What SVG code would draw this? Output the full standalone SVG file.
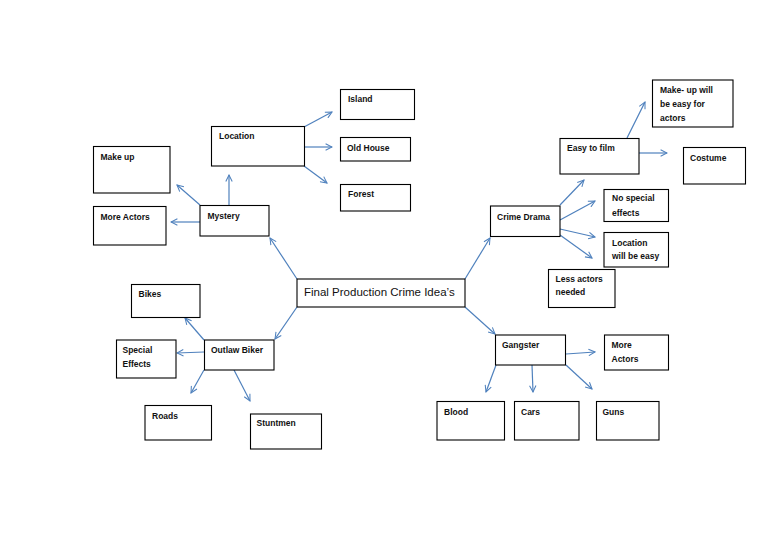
<svg xmlns="http://www.w3.org/2000/svg" width="768" height="543" viewBox="0 0 768 543">
<style>
.b{fill:#fff;stroke:#000;stroke-width:1.1}
.t{font-family:"Liberation Sans",Arial,sans-serif;font-size:8.5px;font-weight:bold;fill:#111}
.c{font-family:"Liberation Sans",Arial,sans-serif;font-size:11.5px;fill:#111}
.a{stroke:#4f81bd;stroke-width:1.2;fill:none;marker-end:url(#ah)}
</style>
<defs>
<marker id="ah" viewBox="0 0 10 10" refX="9" refY="5" markerWidth="8" markerHeight="8" markerUnits="userSpaceOnUse" orient="auto">
<path d="M1,1 L9,5 L1,9" fill="none" stroke="#4f81bd" stroke-width="1.3"/>
</marker>
</defs>
<rect width="768" height="543" fill="#fff"/>
<g id="connectors">
<line class="a" x1="297" y1="279" x2="270" y2="238"/>
<line class="a" x1="465" y1="279" x2="490" y2="238"/>
<line class="a" x1="297" y1="307" x2="275" y2="339"/>
<line class="a" x1="465" y1="307" x2="495" y2="334"/>
<line class="a" x1="200" y1="205" x2="177" y2="185"/>
<line class="a" x1="200" y1="222" x2="171" y2="222"/>
<line class="a" x1="229" y1="205" x2="229" y2="175"/>
<line class="a" x1="304" y1="127" x2="332" y2="112"/>
<line class="a" x1="304" y1="147" x2="332" y2="147"/>
<line class="a" x1="304" y1="166" x2="327" y2="183"/>
<line class="a" x1="560" y1="205" x2="584" y2="180"/>
<line class="a" x1="560" y1="220" x2="595" y2="201"/>
<line class="a" x1="560" y1="229" x2="595" y2="237"/>
<line class="a" x1="560" y1="235" x2="592" y2="258"/>
<line class="a" x1="627" y1="138" x2="645" y2="102"/>
<line class="a" x1="639" y1="153" x2="667" y2="153"/>
<line class="a" x1="204" y1="340" x2="185" y2="318"/>
<line class="a" x1="204" y1="352" x2="177" y2="353"/>
<line class="a" x1="204" y1="370" x2="191" y2="393"/>
<line class="a" x1="234" y1="370" x2="250" y2="401"/>
<line class="a" x1="566" y1="354" x2="595" y2="352"/>
<line class="a" x1="496" y1="365" x2="486" y2="392"/>
<line class="a" x1="532" y1="365" x2="533" y2="392"/>
<line class="a" x1="566" y1="365" x2="592" y2="389"/>
</g>
<g id="central"><rect class="b" x="297" y="279" width="168" height="28"/><text class="c" x="304" y="296">Final Production Crime Idea’s</text></g>
<g id="mystery"><rect class="b" x="200" y="205.5" width="69" height="30.5"/><text class="t" x="207.5" y="219">Mystery</text></g>
<g id="location"><rect class="b" x="211.5" y="126.5" width="93" height="39.5"/><text class="t" x="219" y="139">Location</text></g>
<g id="island"><rect class="b" x="340.5" y="89.5" width="74" height="30"/><text class="t" x="348" y="102">Island</text></g>
<g id="oldhouse"><rect class="b" x="340.5" y="137.5" width="70" height="23.5"/><text class="t" x="347" y="151">Old House</text></g>
<g id="forest"><rect class="b" x="340.5" y="184.5" width="70" height="26.5"/><text class="t" x="348" y="197">Forest</text></g>
<g id="makeup"><rect class="b" x="93.5" y="146.5" width="76.5" height="46.5"/><text class="t" x="100.5" y="160">Make up</text></g>
<g id="moreactors1"><rect class="b" x="93.5" y="206.5" width="72.5" height="38.5"/><text class="t" x="100.5" y="220">More Actors</text></g>
<g id="crimedrama"><rect class="b" x="490.5" y="206" width="69.5" height="30.5"/><text class="t" x="497" y="220">Crime Drama</text></g>
<g id="easytofilm"><rect class="b" x="560" y="138.5" width="79" height="35.5"/><text class="t" x="567" y="151">Easy to film</text></g>
<g id="makeupeasy"><rect class="b" x="652.5" y="80" width="80.5" height="47"/><text class="t" x="660" y="93">Make- up will</text><text class="t" x="660" y="107">be easy for</text><text class="t" x="660" y="121">actors</text></g>
<g id="costume"><rect class="b" x="683.5" y="147.5" width="62" height="36.5"/><text class="t" x="690" y="160.5">Costume</text></g>
<g id="nospecial"><rect class="b" x="604" y="189.5" width="64.5" height="32"/><text class="t" x="612" y="201">No special</text><text class="t" x="612" y="216">effects</text></g>
<g id="locationeasy"><rect class="b" x="604" y="232.5" width="64.5" height="34.5"/><text class="t" x="612" y="245.5">Location</text><text class="t" x="612" y="258.5">will be easy</text></g>
<g id="lessactors"><rect class="b" x="548.5" y="269.5" width="66.5" height="38"/><text class="t" x="555.5" y="281.5">Less actors</text><text class="t" x="555.5" y="295">needed</text></g>
<g id="outlawbiker"><rect class="b" x="204.5" y="340" width="69.5" height="30"/><text class="t" x="211" y="353">Outlaw Biker</text></g>
<g id="bikes"><rect class="b" x="131.5" y="284.5" width="68.5" height="33"/><text class="t" x="138.5" y="297">Bikes</text></g>
<g id="specialeffects"><rect class="b" x="116.5" y="340" width="59.5" height="38"/><text class="t" x="122.5" y="353">Special</text><text class="t" x="122.5" y="367">Effects</text></g>
<g id="roads"><rect class="b" x="145" y="405.5" width="66.5" height="34.5"/><text class="t" x="152" y="419">Roads</text></g>
<g id="stuntmen"><rect class="b" x="250.5" y="414" width="71" height="35"/><text class="t" x="256.5" y="426">Stuntmen</text></g>
<g id="gangster"><rect class="b" x="495.5" y="335" width="70" height="30"/><text class="t" x="502" y="348">Gangster</text></g>
<g id="moreactors2"><rect class="b" x="604.5" y="335" width="64" height="35"/><text class="t" x="611.5" y="348">More</text><text class="t" x="611.5" y="362">Actors</text></g>
<g id="blood"><rect class="b" x="437" y="401.5" width="67.5" height="38.5"/><text class="t" x="444" y="414.5">Blood</text></g>
<g id="cars"><rect class="b" x="514.5" y="401.5" width="64.5" height="38.5"/><text class="t" x="521" y="414.5">Cars</text></g>
<g id="guns"><rect class="b" x="596.5" y="401.5" width="62.5" height="38.5"/><text class="t" x="602.5" y="414.5">Guns</text></g>
</svg>
